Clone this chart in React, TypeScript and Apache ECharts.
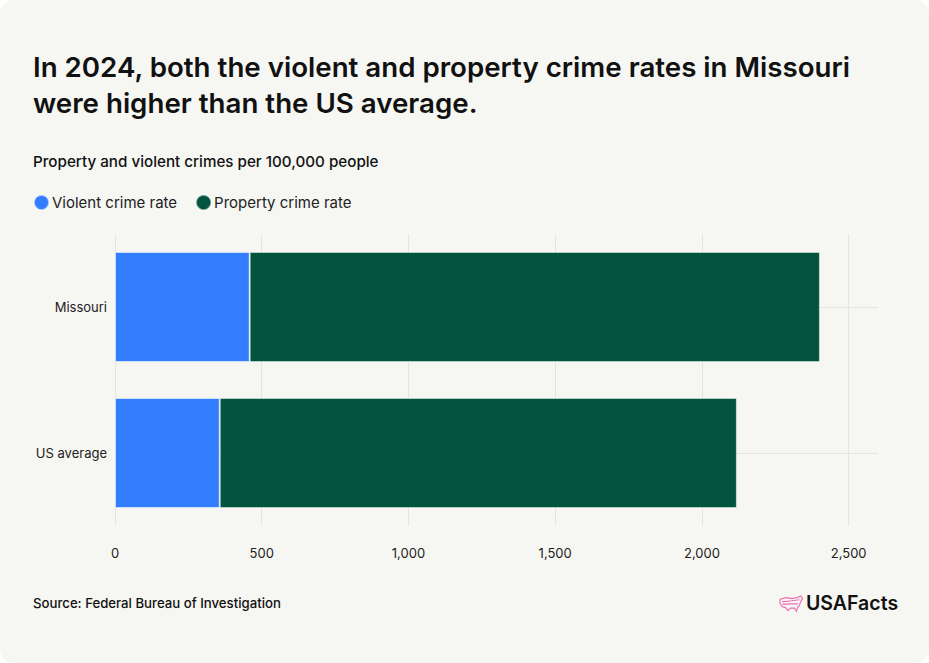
import React, { useEffect, useRef } from "react";
import * as echarts from "echarts";

const categories = ["US average", "Missouri"];
const violentRate = [357, 459];
const propertyRate = [1762, 1943];
const xTicks = [0, 500, 1000, 1500, 2000, 2500];

const FONT = "Inter, 'Noto Sans', sans-serif";
const BLUE = "#337eff";
const GREEN = "#02543f";
const GRID = "#e4e4e0";
const BG = "#f6f6f2";

// simplified US outline with stripes for the logo mark
echarts.graphic.registerShape(
  "usmap",
  echarts.graphic.extendPath(
    "M1 4 L7 2.5 L13 3.5 L18 2.5 L22 1 L23.5 3.5 L21.5 6.5 L20.5 10 L18.5 12 L17.5 15.5 L15.5 12.5 L11.5 12.5 L9 15 L6.5 12 L3 11 L1 8 Z M3 6.5 L13 5.5 L20.5 4.5 M3.5 9 L12 8.5 L19 8.5",
    {}
  )
);

export default function App() {
  const ref = useRef<HTMLDivElement>(null);

  useEffect(() => {
    if (!ref.current) return;
    const chart = echarts.init(ref.current, undefined, { renderer: "svg" });
    const xMax = 2600;
    chart.setOption({
      animation: false,
      backgroundColor: "transparent",
      textStyle: { fontFamily: FONT },
      title: [
        {
          text: "In 2024, both the violent and property crime rates in Missouri\nwere higher than the US average.",
          left: 33,
          top: 49,
          padding: 0,
          textStyle: {
            fontFamily: FONT,
            fontSize: 27.7,
            fontWeight: 600,
            color: "#111111",
            lineHeight: 36,
          },
        },
        {
          text: "Property and violent crimes per 100,000 people",
          left: 33,
          top: 154,
          padding: 0,
          textStyle: {
            fontFamily: FONT,
            fontSize: 15.2,
            fontWeight: 500,
            color: "#111111",
          },
        },
      ],
      legend: {
        left: 33,
        top: 194,
        padding: 0,
        icon: "circle",
        itemWidth: 15,
        itemHeight: 15,
        itemGap: 18,
        textStyle: { fontFamily: FONT, fontSize: 15, color: "#222222", padding: [0, 0, 0, -2] },
        data: ["Violent crime rate", "Property crime rate"],
      },
      grid: { left: 115, right: 51, top: 234, bottom: 137 },
      xAxis: {
        type: "value",
        min: 0,
        max: xMax,
        interval: 500,
        axisLine: { show: false },
        axisTick: {
          show: true,
          length: 14,
          lineStyle: { color: [GRID, GRID, GRID, GRID, GRID, GRID, "transparent"] },
        },
        splitLine: {
          show: true,
          lineStyle: { color: [GRID, GRID, GRID, GRID, GRID, GRID, "transparent"], width: 1 },
        },
        axisLabel: {
          margin: 20,
          fontFamily: FONT,
          fontSize: 13,
          color: "#222222",
          formatter: (v: number) =>
            xTicks.includes(v) ? v.toLocaleString("en-US") : "",
        },
      },
      yAxis: {
        type: "category",
        data: categories,
        axisLine: { show: false },
        axisTick: { show: false },
        axisLabel: { margin: 8, fontFamily: FONT, fontSize: 13, color: "#222222" },
      },
      series: [
        {
          name: "Violent crime rate",
          type: "bar",
          stack: "total",
          data: violentRate,
          barWidth: 110,
          itemStyle: { color: BLUE, borderColor: "rgba(255,255,255,0.55)", borderWidth: 1 },
          markLine: {
            silent: true,
            symbol: "none",
            z: 1,
            label: { show: false },
            lineStyle: { color: GRID, type: "solid", width: 1 },
            data: categories.map((c) => ({ yAxis: c })),
          },
        },
        {
          name: "Property crime rate",
          type: "bar",
          stack: "total",
          data: propertyRate,
          barWidth: 110,
          itemStyle: { color: GREEN, borderColor: "rgba(255,255,255,0.45)", borderWidth: 1 },
        },
      ],
      graphic: [
        {
          type: "text",
          left: 33,
          top: 596,
          style: {
            text: "Source: Federal Bureau of Investigation",
            fontFamily: FONT,
            fontSize: 13.2,
            fontWeight: 500,
            fill: "#111111",
          },
        },
        {
          type: "usmap",
          x: 779,
          y: 595,
          scaleX: 1.0,
          scaleY: 1.05,
          style: { fill: "none", stroke: "#ee6db3", lineWidth: 1.1 },
        },
        {
          type: "text",
          left: 806,
          top: 593,
          style: {
            text: "USAFacts",
            fontFamily: FONT,
            fontSize: 19.5,
            fontWeight: 600,
            fill: "#111111",
          },
        },
      ],
    });
    return () => chart.dispose();
  }, []);

  return (
    <div
      style={{
        position: "fixed",
        left: 0,
        top: 0,
        width: 929,
        height: 663,
        background: "#ffffff",
      }}
    >
      <div
        style={{
          position: "absolute",
          inset: 0,
          background: BG,
          borderRadius: 14,
        }}
      >
        <div ref={ref} style={{ width: 929, height: 663 }} />
      </div>
    </div>
  );
}
